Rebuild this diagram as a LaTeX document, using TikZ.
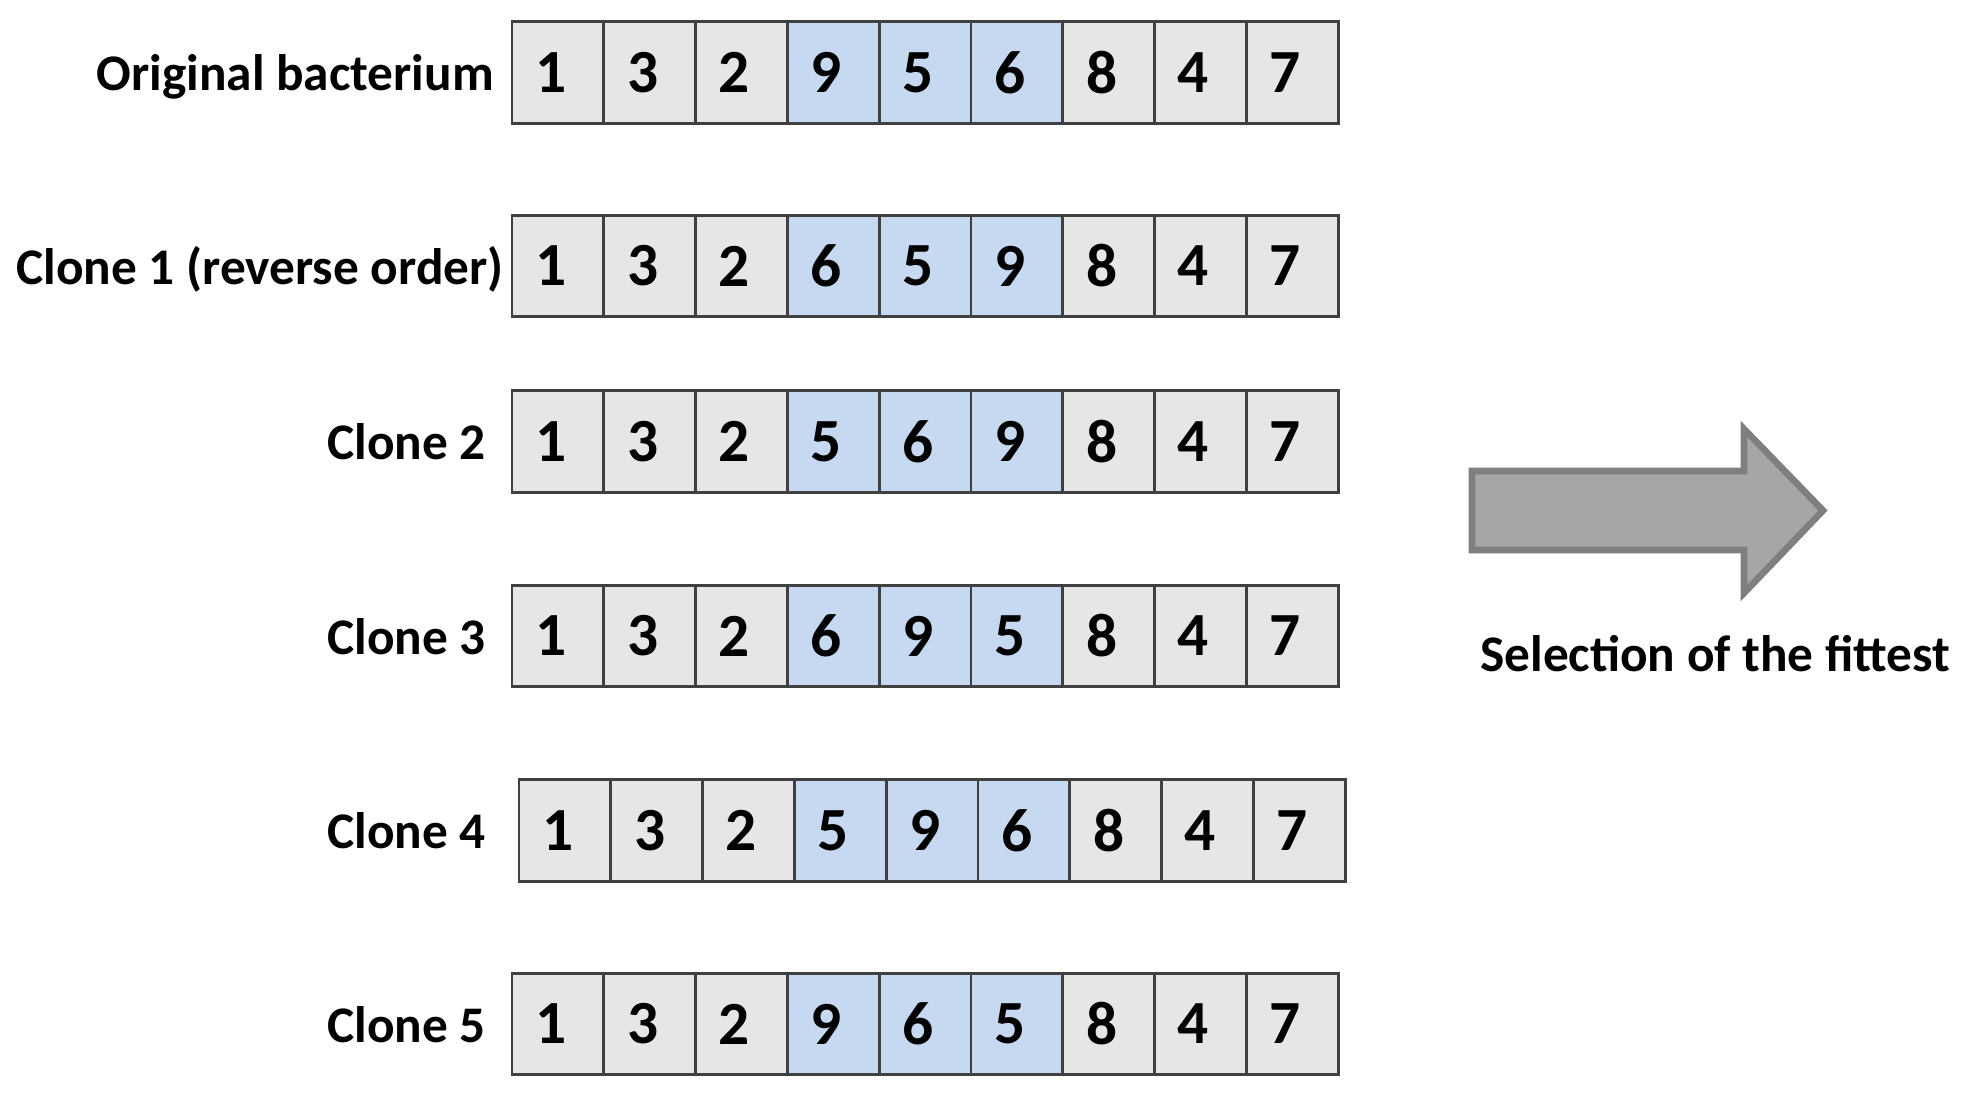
\documentclass[tikz,border=0pt]{standalone}
\usepackage{fontspec}
\setmainfont{Carlito}
\usepackage{tikz}

\definecolor{cellgray}{RGB}{230,230,230}
\definecolor{cellblue}{RGB}{198,217,240}
\definecolor{arrowfill}{RGB}{166,166,166}
\definecolor{arrowline}{RGB}{127,127,127}

\tikzset{
  cell/.style={draw=black!75, line width=2pt, fill=cellgray, minimum width=68.85pt, minimum height=76.1pt, inner sep=0pt, font=\fontsize{46}{55}\selectfont\bfseries, execute at end node={\hspace*{10.5pt}}},
  swapped/.style={cell, fill=cellblue},
  lbl/.style={inner sep=0pt, font=\fontsize{38.5}{46}\selectfont\bfseries}
}

\begin{document}
\begin{tikzpicture}[x=0.75pt,y=0.75pt,yscale=-1,xscale=1]
\useasboundingbox (0,0) rectangle (1974,1101);

% Row: Original bacterium
\node [cell] (r1c1) at (557.9,72.5) {1};
\node [cell] (r1c2) at (649.7,72.5) {3};
\node [cell] (r1c3) at (741.5,72.5) {2};
\node [swapped] (r1c4) at (833.3,72.5) {9};
\node [swapped] (r1c5) at (925.1,72.5) {5};
\node [swapped] (r1c6) at (1016.9,72.5) {6};
\node [cell] (r1c7) at (1108.7,72.5) {8};
\node [cell] (r1c8) at (1200.5,72.5) {4};
\node [cell] (r1c9) at (1292.3,72.5) {7};

% Row: Clone 1
\node [cell] (r2c1) at (557.9,266) {1};
\node [cell] (r2c2) at (649.7,266) {3};
\node [cell] (r2c3) at (741.5,266) {2};
\node [swapped] (r2c4) at (833.3,266) {6};
\node [swapped] (r2c5) at (925.1,266) {5};
\node [swapped] (r2c6) at (1016.9,266) {9};
\node [cell] (r2c7) at (1108.7,266) {8};
\node [cell] (r2c8) at (1200.5,266) {4};
\node [cell] (r2c9) at (1292.3,266) {7};

% Row: Clone 2
\node [cell] (r3c1) at (557.9,441.5) {1};
\node [cell] (r3c2) at (649.7,441.5) {3};
\node [cell] (r3c3) at (741.5,441.5) {2};
\node [swapped] (r3c4) at (833.3,441.5) {5};
\node [swapped] (r3c5) at (925.1,441.5) {6};
\node [swapped] (r3c6) at (1016.9,441.5) {9};
\node [cell] (r3c7) at (1108.7,441.5) {8};
\node [cell] (r3c8) at (1200.5,441.5) {4};
\node [cell] (r3c9) at (1292.3,441.5) {7};

% Row: Clone 3
\node [cell] (r4c1) at (557.9,636) {1};
\node [cell] (r4c2) at (649.7,636) {3};
\node [cell] (r4c3) at (741.5,636) {2};
\node [swapped] (r4c4) at (833.3,636) {6};
\node [swapped] (r4c5) at (925.1,636) {9};
\node [swapped] (r4c6) at (1016.9,636) {5};
\node [cell] (r4c7) at (1108.7,636) {8};
\node [cell] (r4c8) at (1200.5,636) {4};
\node [cell] (r4c9) at (1292.3,636) {7};

% Row: Clone 4
\node [cell] (r5c1) at (564.9,830.5) {1};
\node [cell] (r5c2) at (656.7,830.5) {3};
\node [cell] (r5c3) at (748.5,830.5) {2};
\node [swapped] (r5c4) at (840.3,830.5) {5};
\node [swapped] (r5c5) at (932.1,830.5) {9};
\node [swapped] (r5c6) at (1023.9,830.5) {6};
\node [cell] (r5c7) at (1115.7,830.5) {8};
\node [cell] (r5c8) at (1207.5,830.5) {4};
\node [cell] (r5c9) at (1299.3,830.5) {7};

% Row: Clone 5
\node [cell] (r6c1) at (557.9,1024) {1};
\node [cell] (r6c2) at (649.7,1024) {3};
\node [cell] (r6c3) at (741.5,1024) {2};
\node [swapped] (r6c4) at (833.3,1024) {9};
\node [swapped] (r6c5) at (925.1,1024) {6};
\node [swapped] (r6c6) at (1016.9,1024) {5};
\node [cell] (r6c7) at (1108.7,1024) {8};
\node [cell] (r6c8) at (1200.5,1024) {4};
\node [cell] (r6c9) at (1292.3,1024) {7};

% Text Node
\node [lbl, anchor=base east] (lorig) at (494,90.5) {Original bacterium};
% Text Node
\node [lbl, anchor=base east] (lclone1) at (504,284) {Clone 1 (reverse order)};
% Text Node
\node [lbl, anchor=base east] (lclone2) at (486,459.5) {Clone~2};
% Text Node
\node [lbl, anchor=base east] (lclone3) at (486,654) {Clone~3};
% Text Node
\node [lbl, anchor=base east] (lclone4) at (486,848.5) {Clone~4};
% Text Node
\node [lbl, anchor=base east] (lclone5) at (486,1042) {Clone~5};

%Shape: Right Arrow
\draw [draw=arrowline, fill=arrowfill, line width=5pt, line join=miter] (1472,471) -- (1744,471) -- (1744,429) -- (1823,510.5) -- (1744,593) -- (1744,550) -- (1472,550) -- cycle ;

% Text Node
\node [lbl, anchor=base west] (lselect) at (1480,671) {Selection of the fittest};
\end{tikzpicture}
\end{document}
